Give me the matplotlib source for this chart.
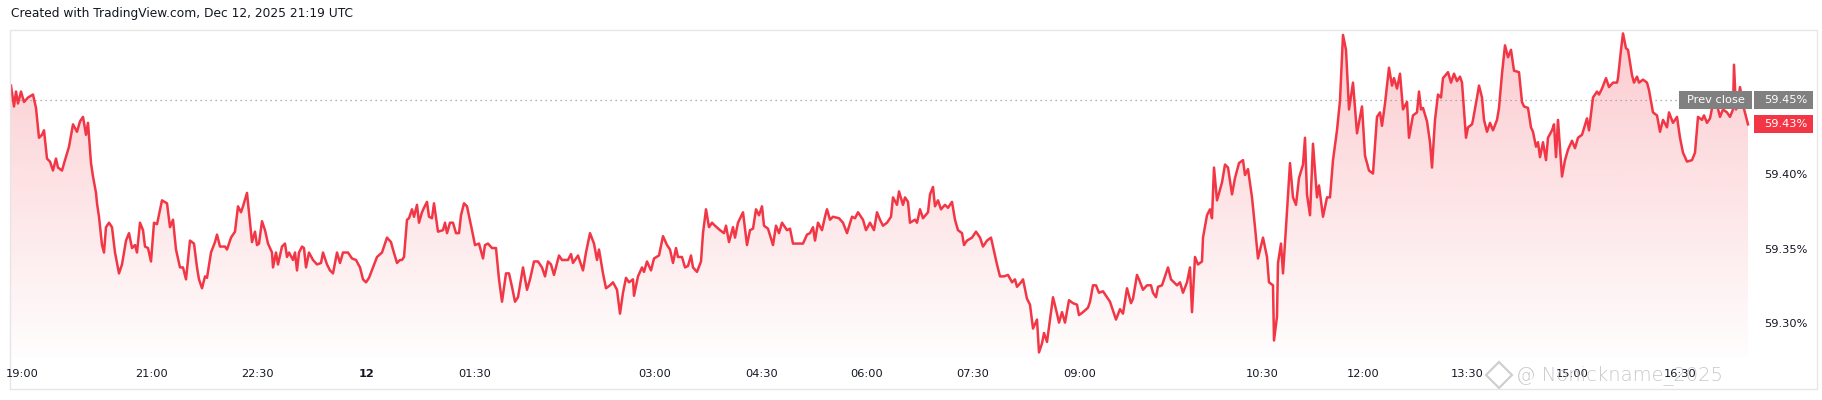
import numpy as np
import matplotlib
matplotlib.use("Agg")
import matplotlib.pyplot as plt
from matplotlib.transforms import blended_transform_factory
from matplotlib.patches import Rectangle, PathPatch
from matplotlib.path import Path

# ---------------- data ----------------
bar_index = [
    11, 14, 16, 18, 21, 24, 28, 33, 36, 39, 42, 44, 47, 50, 53, 56, 58, 62, 65, 69,
    73, 77, 80, 83, 86, 88, 91, 93, 96, 97, 99, 102, 104, 106, 109, 112, 115, 119, 122, 126,
    129, 132, 135, 137, 140, 143, 145, 148, 151, 154, 157, 162, 167, 170, 173, 176, 180, 183, 186, 190,
    194, 197, 199, 202, 205, 207, 211, 215, 217, 220, 225, 227, 231, 235, 238, 241, 243, 247, 250, 252,
    255, 257, 259, 262, 265, 268, 272, 273, 276, 278, 282, 285, 287, 289, 293, 295, 297, 299, 302, 304,
    306, 309, 313, 317, 321, 323, 327, 330, 333, 337, 340, 343, 348, 352, 356, 360, 363, 366, 369, 373,
    377, 382, 387, 391, 393, 397, 400, 402, 404, 407, 409, 412, 414, 417, 419, 422, 424, 427, 429, 432,
    434, 438, 443, 445, 447, 450, 453, 456, 459, 461, 464, 467, 472, 475, 479, 483, 485, 488, 492, 496,
    499, 502, 506, 509, 512, 515, 518, 523, 527, 530, 534, 538, 542, 545, 548, 551, 554, 559, 562, 565,
    568, 571, 573, 578, 583, 586, 590, 594, 597, 599, 603, 606, 610, 613, 617, 620, 623, 626, 629, 633,
    634, 638, 642, 644, 647, 651, 654, 659, 663, 667, 670, 673, 676, 678, 682, 685, 688, 691, 693, 697,
    701, 703, 706, 709, 712, 715, 720, 724, 726, 729, 733, 735, 738, 743, 747, 750, 753, 756, 759, 762,
    764, 768, 773, 776, 779, 782, 787, 790, 793, 798, 803, 807, 810, 813, 815, 818, 822, 825, 827, 830,
    833, 839, 843, 847, 852, 855, 858, 863, 866, 870, 874, 877, 880, 883, 887, 891, 893, 897, 899, 903,
    905, 908, 910, 915, 917, 920, 923, 928, 930, 933, 935, 938, 941, 945, 948, 952, 955, 958, 962, 964,
    967, 972, 976, 980, 983, 987, 991, 993, 997, 1000, 1004, 1008, 1012, 1015, 1017, 1021, 1023, 1027, 1030, 1033,
    1037, 1039, 1042, 1044, 1047, 1050, 1053, 1057, 1059, 1062, 1065, 1069, 1073, 1077, 1079, 1083, 1088, 1090, 1093, 1096,
    1099, 1103, 1107, 1110, 1113, 1116, 1120, 1123, 1127, 1131, 1133, 1137, 1139, 1143, 1147, 1151, 1153, 1156, 1158, 1162,
    1164, 1168, 1171, 1174, 1177, 1180, 1183, 1187, 1190, 1192, 1195, 1198, 1202, 1203, 1207, 1210, 1212, 1214, 1217, 1222,
    1225, 1228, 1232, 1235, 1239, 1243, 1245, 1248, 1252, 1255, 1258, 1263, 1267, 1269, 1273, 1274, 1277, 1278, 1281, 1283,
    1286, 1290, 1293, 1296, 1299, 1303, 1305, 1307, 1310, 1313, 1315, 1317, 1319, 1323, 1327, 1330, 1333, 1337, 1340, 1343,
    1346, 1349, 1353, 1357, 1362, 1365, 1369, 1373, 1377, 1380, 1382, 1385, 1389, 1392, 1394, 1397, 1400, 1403, 1407, 1409,
    1413, 1417, 1419, 1421, 1423, 1427, 1430, 1432, 1435, 1438, 1441, 1443, 1448, 1451, 1454, 1457, 1460, 1462, 1466, 1468,
    1472, 1473, 1477, 1479, 1482, 1484, 1487, 1490, 1493, 1497, 1499, 1502, 1505, 1508, 1511, 1514, 1519, 1522, 1524, 1528,
    1531, 1533, 1536, 1538, 1540, 1543, 1546, 1548, 1552, 1554, 1556, 1558, 1562, 1565, 1568, 1572, 1575, 1578, 1582, 1587,
    1589, 1593, 1597, 1599, 1602, 1606, 1609, 1613, 1617, 1618, 1621, 1623, 1626, 1628, 1632, 1634, 1637, 1639, 1643, 1647,
    1649, 1653, 1657, 1660, 1663, 1667, 1669, 1673, 1677, 1680, 1683, 1687, 1692, 1695, 1698, 1702, 1704, 1707, 1710, 1713,
    1717, 1720, 1723, 1727, 1730, 1733, 1734, 1736, 1738, 1740, 1743, 1748,
]

values = [
    59.460, 59.446, 59.456, 59.448, 59.456, 59.449, 59.452, 59.454, 59.445, 59.425, 59.427, 59.430, 59.411, 59.409, 59.403, 59.411, 59.405, 59.403, 59.410, 59.419,
    59.434, 59.429, 59.436, 59.439, 59.427, 59.435, 59.408, 59.399, 59.388, 59.381, 59.372, 59.353, 59.348, 59.365, 59.368, 59.365, 59.348, 59.334, 59.340, 59.356,
    59.361, 59.351, 59.353, 59.348, 59.368, 59.363, 59.352, 59.351, 59.342, 59.368, 59.367, 59.383, 59.381, 59.365, 59.370, 59.350, 59.338, 59.338, 59.330, 59.356,
    59.354, 59.338, 59.330, 59.324, 59.332, 59.331, 59.348, 59.355, 59.360, 59.352, 59.352, 59.350, 59.358, 59.362, 59.379, 59.375, 59.379, 59.388, 59.368, 59.355,
    59.362, 59.353, 59.354, 59.369, 59.363, 59.354, 59.348, 59.338, 59.348, 59.340, 59.352, 59.354, 59.345, 59.348, 59.343, 59.348, 59.336, 59.348, 59.352, 59.351,
    59.338, 59.348, 59.343, 59.340, 59.341, 59.348, 59.340, 59.336, 59.334, 59.348, 59.341, 59.348, 59.348, 59.344, 59.343, 59.338, 59.330, 59.328, 59.331, 59.338,
    59.345, 59.348, 59.358, 59.355, 59.350, 59.341, 59.343, 59.343, 59.345, 59.370, 59.371, 59.377, 59.372, 59.380, 59.368, 59.375, 59.378, 59.382, 59.372, 59.371,
    59.381, 59.362, 59.363, 59.368, 59.361, 59.368, 59.368, 59.361, 59.361, 59.373, 59.381, 59.379, 59.363, 59.353, 59.354, 59.344, 59.353, 59.354, 59.351, 59.351,
    59.330, 59.315, 59.334, 59.334, 59.325, 59.315, 59.318, 59.338, 59.323, 59.330, 59.342, 59.342, 59.338, 59.332, 59.342, 59.340, 59.333, 59.346, 59.343, 59.343,
    59.343, 59.347, 59.341, 59.346, 59.336, 59.348, 59.361, 59.354, 59.343, 59.350, 59.334, 59.324, 59.326, 59.328, 59.323, 59.307, 59.321, 59.331, 59.328, 59.330,
    59.319, 59.332, 59.338, 59.335, 59.342, 59.336, 59.344, 59.346, 59.359, 59.353, 59.350, 59.341, 59.351, 59.345, 59.345, 59.338, 59.339, 59.346, 59.338, 59.335,
    59.342, 59.361, 59.377, 59.365, 59.368, 59.366, 59.363, 59.361, 59.366, 59.355, 59.365, 59.358, 59.368, 59.375, 59.353, 59.363, 59.364, 59.377, 59.373, 59.379,
    59.366, 59.364, 59.353, 59.366, 59.361, 59.368, 59.363, 59.364, 59.354, 59.354, 59.354, 59.360, 59.361, 59.365, 59.356, 59.368, 59.363, 59.372, 59.377, 59.370,
    59.372, 59.371, 59.368, 59.361, 59.372, 59.371, 59.375, 59.370, 59.363, 59.368, 59.363, 59.375, 59.370, 59.366, 59.368, 59.372, 59.385, 59.380, 59.389, 59.380,
    59.385, 59.382, 59.368, 59.370, 59.368, 59.377, 59.371, 59.375, 59.387, 59.392, 59.379, 59.383, 59.377, 59.380, 59.378, 59.382, 59.370, 59.363, 59.361, 59.353,
    59.356, 59.358, 59.362, 59.358, 59.352, 59.356, 59.358, 59.352, 59.340, 59.332, 59.332, 59.333, 59.328, 59.330, 59.325, 59.328, 59.330, 59.317, 59.313, 59.297,
    59.303, 59.281, 59.287, 59.294, 59.288, 59.303, 59.318, 59.307, 59.301, 59.308, 59.301, 59.316, 59.314, 59.313, 59.306, 59.308, 59.311, 59.315, 59.326, 59.326,
    59.321, 59.322, 59.318, 59.315, 59.309, 59.303, 59.310, 59.307, 59.324, 59.314, 59.317, 59.333, 59.330, 59.323, 59.326, 59.326, 59.321, 59.318, 59.325, 59.326,
    59.330, 59.338, 59.330, 59.328, 59.326, 59.328, 59.321, 59.328, 59.338, 59.308, 59.345, 59.340, 59.342, 59.358, 59.373, 59.377, 59.371, 59.405, 59.383, 59.395,
    59.407, 59.405, 59.387, 59.398, 59.408, 59.410, 59.400, 59.404, 59.385, 59.365, 59.344, 59.358, 59.345, 59.328, 59.326, 59.289, 59.305, 59.341, 59.354, 59.334,
    59.365, 59.408, 59.385, 59.380, 59.398, 59.407, 59.425, 59.387, 59.373, 59.421, 59.403, 59.385, 59.393, 59.372, 59.385, 59.385, 59.410, 59.430, 59.450, 59.494,
    59.484, 59.444, 59.462, 59.428, 59.446, 59.413, 59.403, 59.401, 59.439, 59.442, 59.433, 59.448, 59.472, 59.460, 59.465, 59.458, 59.468, 59.444, 59.449, 59.425,
    59.440, 59.442, 59.456, 59.444, 59.445, 59.436, 59.422, 59.405, 59.437, 59.454, 59.452, 59.465, 59.469, 59.462, 59.468, 59.463, 59.466, 59.462, 59.425, 59.432,
    59.434, 59.437, 59.452, 59.460, 59.452, 59.437, 59.429, 59.435, 59.430, 59.437, 59.445, 59.468, 59.487, 59.479, 59.484, 59.470, 59.469, 59.449, 59.446, 59.445,
    59.432, 59.429, 59.419, 59.422, 59.412, 59.422, 59.410, 59.425, 59.430, 59.434, 59.412, 59.437, 59.399, 59.410, 59.417, 59.423, 59.418, 59.425, 59.427, 59.438,
    59.430, 59.452, 59.456, 59.454, 59.458, 59.465, 59.459, 59.462, 59.462, 59.465, 59.484, 59.495, 59.485, 59.484, 59.467, 59.462, 59.466, 59.462, 59.464, 59.462,
    59.457, 59.442, 59.440, 59.429, 59.437, 59.432, 59.442, 59.435, 59.439, 59.425, 59.415, 59.409, 59.410, 59.415, 59.439, 59.437, 59.440, 59.435, 59.438, 59.448,
    59.447, 59.439, 59.444, 59.442, 59.439, 59.444, 59.474, 59.444, 59.450, 59.459, 59.447, 59.434,
]

tick_bars = [22, 152, 257, 367, 475, 655, 762, 867, 973, 1080, 1262, 1363, 1467, 1572, 1680]
tick_labels = ["19:00", "21:00", "22:30", "12", "01:30", "03:00", "04:30", "06:00",
               "07:30", "09:00", "10:30", "12:00", "13:30", "15:00", "16:30"]
price_ticks = [59.30, 59.35, 59.40]
prev_close = 59.45
title_text = "Created with TradingView.com, Dec 12, 2025 21:19 UTC"
watermark_text = "@ Nonickname_2025"

# ---------------- styling / layout ----------------
W, H = 1822, 400
RED = "#F23645"
TXT = "#131722"
ymin, ymax = 59.2779, 59.4973
xlo, xhi = 10, 1752
pane_top, pane_bot = 30, 357

fig = plt.figure(figsize=(W / 100, H / 100), dpi=100)
fig.patch.set_facecolor("white")

ax = fig.add_axes([xlo / W, (H - pane_bot) / H, (xhi - xlo) / W, (pane_bot - pane_top) / H])
ax.axis("off")

# gradient fill under the line
grad = np.zeros((256, 1, 4))
rgb = matplotlib.colors.to_rgb(RED)
grad[:, :, 0], grad[:, :, 1], grad[:, :, 2] = rgb
grad[:, 0, 3] = np.linspace(0.01, 0.26, 256)
im = ax.imshow(grad, extent=[bar_index[0], bar_index[-1], ymin, ymax], origin="lower",
               aspect="auto", interpolation="bilinear", zorder=1)
verts = [(bar_index[0], ymin)] + list(zip(bar_index, values)) + [(bar_index[-1], ymin)]
clip = PathPatch(Path(verts), facecolor="none", edgecolor="none", transform=ax.transData)
ax.add_patch(clip)
im.set_clip_path(clip)

ax.axhline(prev_close, color="#9598a1", lw=0.9, linestyle=(0, (1, 3)), zorder=2)
ax.plot(bar_index, values, color=RED, lw=1.8, solid_joinstyle="round", zorder=3)
ax.set_xlim(xlo, xhi)
ax.set_ylim(ymin, ymax)

# overlay in pixel coordinates
ov = fig.add_axes([0, 0, 1, 1], zorder=5)
ov.set_xlim(0, W)
ov.set_ylim(H, 0)
ov.axis("off")
ov.patch.set_alpha(0)

ov.add_patch(Rectangle((10, 30), 1807, 359, fill=False, edgecolor="#e6e6e6", lw=1))
ov.text(11, 14, title_text, fontsize=8.8, color=TXT, ha="left", va="center")

trans_p = blended_transform_factory(ov.transData, ax.transData)
trans_t = blended_transform_factory(ax.transData, ov.transData)

for p in price_ticks:
    ov.text(1786, p, f"{p:.2f}%", transform=trans_p, ha="center", va="center",
            fontsize=8.2, color=TXT)

hh = 9 / (pane_bot - pane_top) * (ymax - ymin)
ov.add_patch(Rectangle((1679, prev_close - hh), 73, 2 * hh, transform=trans_p,
                       facecolor="#808080", edgecolor="none"))
ov.add_patch(Rectangle((1754, prev_close - hh), 59, 2 * hh, transform=trans_p,
                       facecolor="#808080", edgecolor="none"))
ov.text(1716, prev_close, "Prev close", transform=trans_p, ha="center", va="center",
        fontsize=8.2, color="white")
ov.text(1786, prev_close, f"{prev_close:.2f}%", transform=trans_p, ha="center", va="center",
        fontsize=8.2, color="white")

last = values[-1]
ov.add_patch(Rectangle((1754, last - hh), 59, 2 * hh, transform=trans_p,
                       facecolor=RED, edgecolor="none"))
ov.text(1786, last, f"{last:.2f}%", transform=trans_p, ha="center", va="center",
        fontsize=8.2, color="white")

for b, lab in zip(tick_bars, tick_labels):
    ov.text(b, 374, lab, transform=trans_t, ha="center", va="center", fontsize=8.2,
            color=TXT, fontweight="bold" if lab == "12" else "normal")

# watermark (drawn over the time axis, as in the source)
ov.plot([1499], [375], marker="D", ms=13, mfc="none", mec="#cfcfcf", mew=1.6, zorder=6)
ov.text(1516, 375, watermark_text, fontsize=14, color="#c2c2c2", alpha=0.9,
        ha="left", va="center", fontweight="light", zorder=6)

fig.savefig("out.png", dpi=100)
